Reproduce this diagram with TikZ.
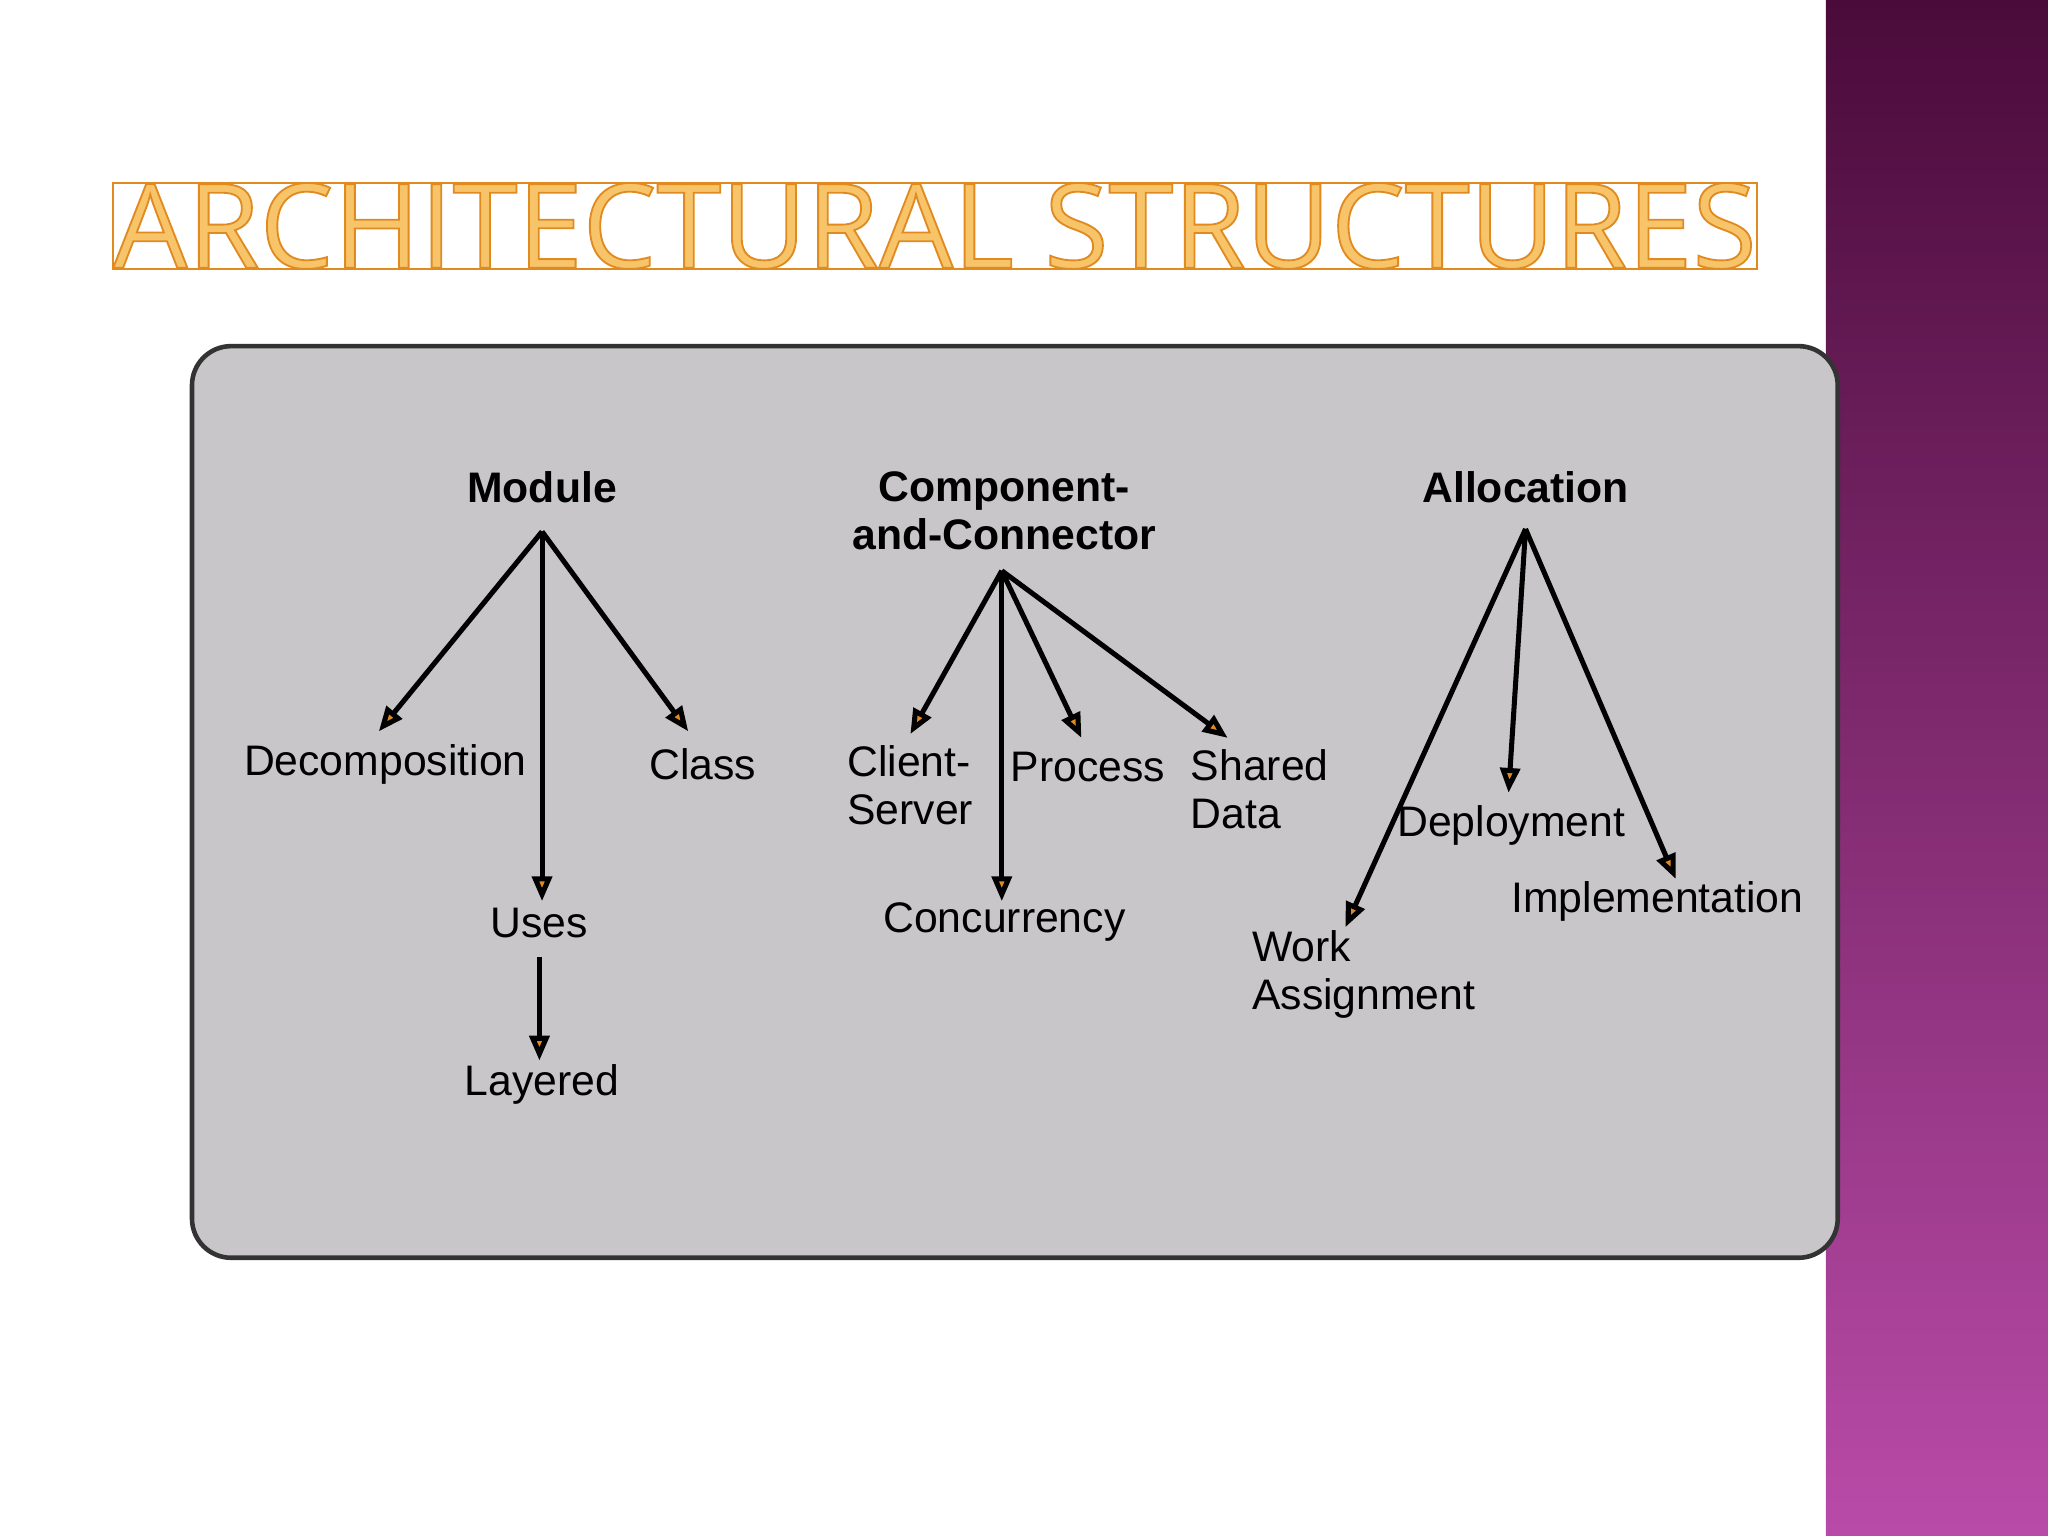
\documentclass[tikz,border=0pt]{standalone}
\usepackage{fontspec}
\setmainfont{Liberation Sans}
\newfontfamily\titlefont{Open Sans}
\usetikzlibrary{arrows.meta}
\definecolor{boxgray}{HTML}{C8C6C9}
\definecolor{titleor}{HTML}{F7C46A}
\definecolor{titleline}{HTML}{E08A20}
\definecolor{purpT}{HTML}{4A0B3A}
\definecolor{purpB}{HTML}{B94BA8}
\tikzset{
  lbl/.style={font=\fontsize{9.3pt}{10.5pt}\selectfont, inner sep=0pt, align=left},
  hdr/.style={font=\bfseries\fontsize{9.3pt}{10.5pt}\selectfont, inner sep=0pt, align=center},
  arr/.style={line width=1.1pt, -{Triangle[length=0.19cm,width=0.15cm]}},
}
\begin{document}
\begin{tikzpicture}[x=0.01cm,y=-0.01cm]
\useasboundingbox (0,0) rectangle (1568,1176);
\fill[white] (0,0) rectangle (1568,1176);
\shade[top color=purpT, bottom color=purpB] (1398,0) rectangle (1568,1176);
\node[anchor=west, inner sep=0pt, font=\titlefont\fontsize{25.5pt}{28pt}\selectfont,
  text=titleor, draw=titleline] (title) at (86,173) {\pgfsetstrokecolor{titleline}\special{pdf:literal 2 Tr 0.4 w}ARCHITECTURAL STRUCTURES\special{pdf:literal 0 Tr}};
\draw[fill=boxgray, draw=black!80, line width=1pt, rounded corners=0.3cm] (147,265) rectangle (1407,963);
% Module
\node[hdr] (mod) at (415,373) {Module};
\coordinate (m0) at (415,407);
\node[lbl] (dec) at (295,585) {Decomposition};
\node[lbl] (cls) at (538,585) {Class};
\node[lbl] (uses) at (413,707) {Uses};
\node[lbl] (lay) at (415,830) {Layered};
\coordinate (mdec) at (290,560);
\coordinate (mcls) at (527,560);
\coordinate (muse) at (415,690);
\coordinate (u0) at (413,733);
\coordinate (ulay) at (413,812);
\draw[arr] (m0) -- (mdec);
\draw[arr] (m0) -- (mcls);
\draw[arr] (m0) -- (muse);
\draw[arr] (u0) -- (ulay);
% C&C
\node[hdr] (cc) at (769,391) {Component-\\and-Connector};
\coordinate (c0) at (767,437);
\node[lbl, anchor=west] (cs) at (648,601) {Client-\\Server};
\node[lbl] (conc) at (769,706) {Concurrency};
\node[lbl] (proc) at (833,587) {Process};
\node[lbl, anchor=west] (sd) at (911,604) {Shared\\Data};
\coordinate (ccs) at (697,562);
\coordinate (cconc) at (767,690);
\coordinate (cproc) at (828,565);
\coordinate (csd) at (940,565);
\draw[arr] (c0) -- (ccs);
\draw[arr] (c0) -- (cconc);
\draw[arr] (c0) -- (cproc);
\draw[arr] (c0) -- (csd);
% Allocation
\node[hdr] (alloc) at (1168,373) {Allocation};
\coordinate (a0) at (1168,405);
\node[lbl, anchor=west] (wa) at (958,746) {Work\\Assignment};
\node[lbl] (dep) at (1157,632) {Deployment};
\node[lbl] (impl) at (1269,690) {Implementation};
\coordinate (awa) at (1030,710);
\coordinate (adep) at (1155,607);
\coordinate (aimp) at (1283,673);
\draw[arr] (a0) -- (awa);
\draw[arr] (a0) -- (adep);
\draw[arr] (a0) -- (aimp);
\end{tikzpicture}
\end{document}
